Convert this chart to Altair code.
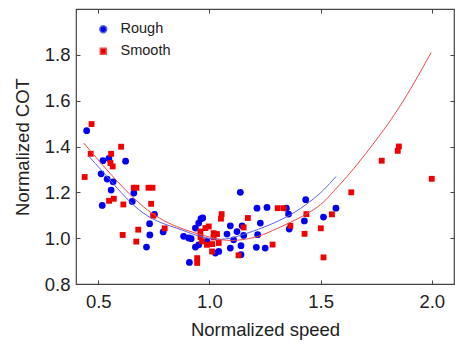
import altair as alt
import pandas as pd

# ---- scatter data ----
rough_x = [0.448, 0.521, 0.548, 0.513, 0.540, 0.567, 0.558, 0.518, 0.623, 0.660,
           0.653, 0.753, 0.731, 0.732, 0.717, 0.792, 0.884, 0.907, 0.918, 0.910,
           0.937, 0.952, 0.962, 0.970, 0.937, 0.952, 0.989, 1.027, 1.042, 1.079,
           1.094, 1.094, 1.124, 1.147, 1.154, 1.142, 1.142, 1.109, 1.139, 1.214,
           1.259, 1.229, 1.217, 1.211, 1.251, 1.346, 1.356, 1.359, 1.427, 1.433,
           1.513, 1.569]
rough_y = [1.469, 1.338, 1.348, 1.281, 1.258, 1.246, 1.210, 1.143, 1.336, 1.197,
           1.160, 1.104, 1.063, 1.014, 0.961, 1.027, 1.008, 1.001, 0.998, 0.894,
           1.044, 1.066, 1.085, 1.088, 0.961, 0.971, 0.986, 0.935, 0.942, 1.018,
           1.054, 0.957, 1.029, 1.054, 1.012, 0.967, 0.928, 0.993, 1.200, 1.131,
           1.134, 1.066, 1.015, 0.960, 0.957, 1.131, 1.105, 1.040, 1.075, 1.168,
           1.092, 1.131]

smooth_x = [0.439, 0.470, 0.466, 0.558, 0.555, 0.565, 0.603, 0.549, 0.570, 0.613,
            0.610, 0.660, 0.672, 0.726, 0.744, 0.738, 0.747, 0.680, 0.671, 0.799,
            0.945, 0.945, 1.055, 1.052, 1.173, 1.154, 0.959, 0.982, 0.997, 1.019,
            1.034, 0.967, 0.989, 1.012, 1.042, 1.019, 1.012, 0.960, 1.131, 1.284,
            1.307, 1.334, 1.364, 1.428, 1.436, 1.501, 1.513, 1.551, 1.638, 1.775,
            1.847, 1.852, 2.000]
smooth_y = [1.267, 1.498, 1.368, 1.368, 1.328, 1.313, 1.399, 1.163, 1.172, 1.147,
            1.014, 1.220, 1.220, 1.220, 1.220, 1.150, 1.098, 1.037, 0.985, 1.043,
            0.913, 0.892, 1.105, 1.085, 1.088, 1.047, 1.029, 1.044, 1.051, 1.022,
            1.018, 0.986, 0.971, 0.974, 0.979, 1.003, 0.942, 1.005, 0.925, 0.972,
            1.131, 1.131, 1.054, 1.019, 1.105, 1.043, 0.916, 1.104, 1.200, 1.338,
            1.381, 1.400, 1.259]

# ---- fitted curves ----
rough_fit_x = [0.455, 0.552, 0.702, 0.852, 0.95, 1.05, 1.139, 1.25, 1.364, 1.45, 1.513, 1.569]
rough_fit_y = [1.360, 1.255, 1.110, 1.044, 1.010, 0.995, 1.012, 1.050, 1.102, 1.158, 1.210, 1.269]
smooth_fit_x = [0.435, 0.552, 0.702, 0.852, 1.0, 1.1, 1.2, 1.3, 1.468, 1.558, 1.633, 1.782, 1.902, 1.997]
smooth_fit_y = [1.415, 1.284, 1.138, 1.051, 1.005, 0.990, 1.003, 1.040, 1.124, 1.204, 1.285, 1.470, 1.647, 1.810]

series = ["Rough", "Smooth"]
x_ticks = [0.5, 1.0, 1.5, 2.0]
y_ticks = [0.8, 1.0, 1.2, 1.4, 1.6, 1.8]

pts = pd.DataFrame({
    "speed": rough_x + smooth_x,
    "cot": rough_y + smooth_y,
    "surface": ["Rough"] * len(rough_x) + ["Smooth"] * len(smooth_x),
})
fits = pd.DataFrame({
    "speed": rough_fit_x + smooth_fit_x,
    "cot": rough_fit_y + smooth_fit_y,
    "surface": ["Rough"] * len(rough_fit_x) + ["Smooth"] * len(smooth_fit_x),
})

FONT = "Liberation Sans"
inward = alt.ExprRef(expr="-4")

xscale = alt.Scale(domain=[0.4, 2.1], nice=False, zero=False)
yscale = alt.Scale(domain=[0.8, 2.0], nice=False, zero=False)

leg = dict(title=None, orient="none", legendX=20, legendY=13,
           labelFontSize=14.5, labelFont=FONT, labelOffset=10,
           rowPadding=7, labelColor="#222")

points = alt.Chart(pts).mark_point(filled=True, opacity=1, strokeWidth=0).encode(
    x=alt.X("speed:Q", scale=xscale,
            axis=alt.Axis(title="Normalized speed", values=x_ticks, format=".1f",
                          tickSize=inward, labelPadding=12, titlePadding=10,
                          grid=False, domain=False)),
    y=alt.Y("cot:Q", scale=yscale,
            axis=alt.Axis(title="Normalized COT", values=y_ticks, format=".1f",
                          tickSize=inward, labelPadding=10, titlePadding=12,
                          grid=False, domain=False)),
    color=alt.Color("surface:N", scale=alt.Scale(domain=series, range=["#0000F0", "#F00000"]),
                    legend=alt.Legend(**leg)),
    shape=alt.Shape("surface:N", scale=alt.Scale(domain=series, range=["circle", "square"]),
                    legend=alt.Legend(**leg)),
    size=alt.Size("surface:N", scale=alt.Scale(domain=series, range=[46, 34]),
                  legend=alt.Legend(**leg)),
)

lines = alt.Chart(fits).mark_line(strokeWidth=1, interpolate="natural").encode(
    x=alt.X("speed:Q", scale=xscale,
            axis=alt.Axis(orient="top", title=None, values=x_ticks, labels=False,
                          tickSize=inward, grid=False, domain=False)),
    y=alt.Y("cot:Q", scale=yscale,
            axis=alt.Axis(orient="right", title=None, values=y_ticks, labels=False,
                          tickSize=inward, grid=False, domain=False)),
    detail="surface:N",
    stroke=alt.Stroke("surface:N", scale=alt.Scale(domain=series, range=["#5A62E6", "#EE4848"]),
                      legend=None),
)

chart = alt.layer(points, lines).resolve_axis(x="independent", y="independent").properties(
    width=378, height=275,
    autosize=alt.AutoSizeParams(type="none"),
    padding={"left": 76, "top": 9, "right": 20, "bottom": 62},
    background="white",
).configure_view(stroke="#444444", strokeWidth=1.2).configure_axis(
    labelFont=FONT, titleFont=FONT, labelFontSize=18.5, titleFontSize=18.5,
    labelColor="#222222", titleColor="#222222", titleFontWeight="normal",
    tickColor="#444444", tickWidth=1,
)

chart.save("out.html", embed_options={"renderer": "svg", "actions": False})
